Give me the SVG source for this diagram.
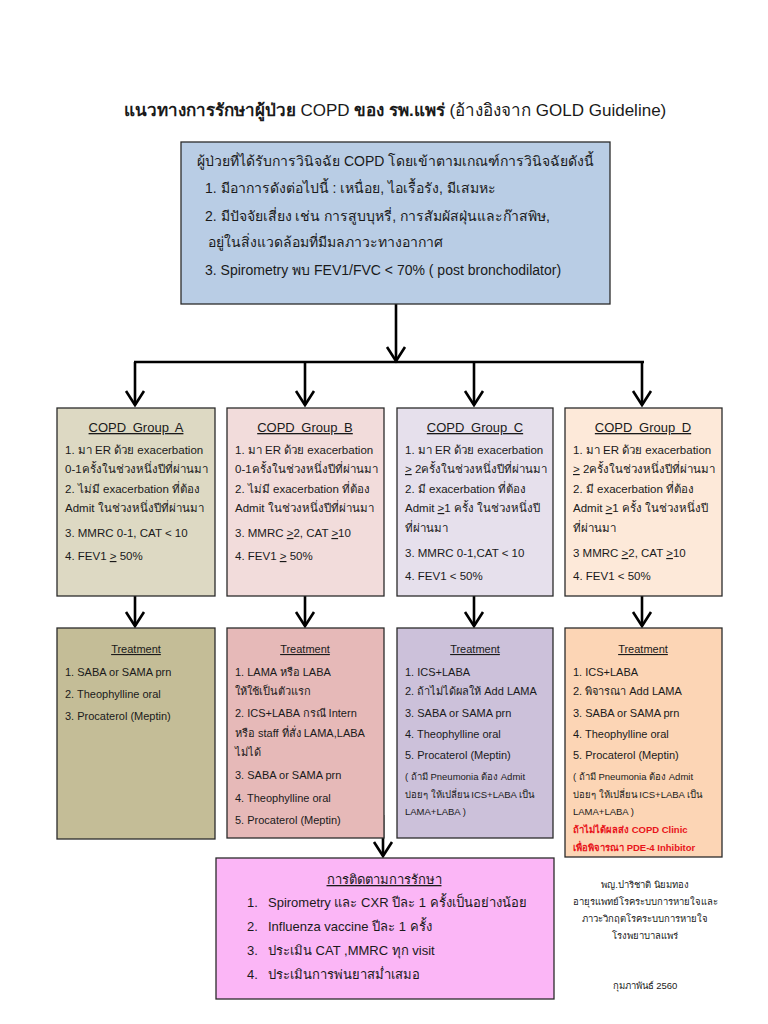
<svg xmlns="http://www.w3.org/2000/svg" width="768" height="1024" viewBox="0 0 768 1024">
<style>
text{font-family:"Liberation Sans","Noto Sans",Arial,sans-serif;fill:#1a1a1a}
.box{stroke:#2b2b2b;stroke-width:1.3}
.g{font-size:11.5px}
.gh{font-size:13px;text-decoration:underline;word-spacing:3px}
.t{font-size:11px}
.top{font-size:14px}
.fu{font-size:13px}
.sig{font-size:9.5px}
.hd{text-decoration:underline}
.red{fill:#e8141b;font-weight:bold;font-size:9.5px}
.sm{font-size:9.5px}
.conn{stroke:#000;stroke-width:2.6;fill:none}
</style>
<defs>
<marker id="arr" markerUnits="userSpaceOnUse" markerWidth="24" markerHeight="24" viewBox="0 0 24 24" refX="20" refY="12" orient="auto">
<path d="M6,3 L20,12 L6,21" fill="none" stroke="#000" stroke-width="2.6"/>
</marker>
</defs>
<rect width="768" height="1024" fill="#fff"/>
<text x="395" y="116" text-anchor="middle" font-size="17"><tspan font-weight="bold">แนวทางการรักษาผู้ป่วย</tspan> COPD <tspan font-weight="bold">ของ รพ.แพร่</tspan> (อ้างอิงจาก GOLD Guideline)</text>

<g id="connectors">
<line class="conn" x1="396" y1="304" x2="396" y2="361" marker-end="url(#arr)"/>
<line class="conn" x1="134" y1="362" x2="644" y2="362"/>
<line class="conn" x1="135" y1="362" x2="135" y2="405" marker-end="url(#arr)"/>
<line class="conn" x1="305" y1="362" x2="305" y2="405" marker-end="url(#arr)"/>
<line class="conn" x1="474" y1="362" x2="474" y2="405" marker-end="url(#arr)"/>
<line class="conn" x1="642" y1="362" x2="642" y2="405" marker-end="url(#arr)"/>
<line class="conn" x1="135" y1="596" x2="135" y2="626" marker-end="url(#arr)"/>
<line class="conn" x1="305" y1="596" x2="305" y2="626" marker-end="url(#arr)"/>
<line class="conn" x1="474" y1="596" x2="474" y2="626" marker-end="url(#arr)"/>
<line class="conn" x1="642" y1="596" x2="642" y2="626" marker-end="url(#arr)"/>
<line class="conn" x1="383" y1="815" x2="383" y2="856" marker-end="url(#arr)"/>
</g>

<g id="diagnosis">
<rect class="box" x="181" y="142" width="429" height="162" fill="#b9cde5"/>
<text class="top" x="197" y="166">ผู้ป่วยที่ได้รับการวินิจฉัย COPD โดยเข้าตามเกณฑ์การวินิจฉัยดังนี้</text>
<text class="top" x="205" y="193">1. มีอาการดังต่อไปนี้  : เหนื่อย, ไอเรื้อรัง, มีเสมหะ</text>
<text class="top" x="205" y="221">2. มีปัจจัยเสี่ยง เช่น การสูบบุหรี่, การสัมผัสฝุ่นและก๊าสพิษ,</text>
<text class="top" x="208" y="247">อยู่ในสิ่งแวดล้อมที่มีมลภาวะทางอากาศ</text>
<text class="top" x="205" y="275">3. Spirometry พบ FEV1/FVC &lt; 70% ( post bronchodilator)</text>
</g>

<g id="groupA">
<rect class="box" x="57" y="408" width="158" height="188" fill="#ddd9c3"/>
<text class="gh" x="136" y="432" text-anchor="middle">COPD Group A</text>
<text class="g" x="65" y="454">1. มา ER ด้วย exacerbation</text>
<text class="g" x="65" y="473">0-1ครั้งในช่วงหนึ่งปีที่ผ่านมา</text>
<text class="g" x="65" y="493">2. ไม่มี exacerbation ที่ต้อง</text>
<text class="g" x="65" y="512">Admit ในช่วงหนึ่งปีที่ผ่านมา</text>
<text class="g" x="65" y="537">3. MMRC 0-1, CAT &lt; 10</text>
<text class="g" x="65" y="560">4. FEV1 <tspan class="hd">&gt;</tspan> 50%</text>
</g>

<g id="groupB">
<rect class="box" x="227" y="408" width="157" height="188" fill="#f2dcdb"/>
<text class="gh" x="305" y="432" text-anchor="middle">COPD Group B</text>
<text class="g" x="235" y="454">1. มา ER ด้วย exacerbation</text>
<text class="g" x="235" y="473">0-1ครั้งในช่วงหนึ่งปีที่ผ่านมา</text>
<text class="g" x="235" y="493">2. ไม่มี exacerbation ที่ต้อง</text>
<text class="g" x="235" y="512">Admit ในช่วงหนึ่งปีที่ผ่านมา</text>
<text class="g" x="235" y="537">3. MMRC <tspan class="hd">&gt;</tspan>2, CAT <tspan class="hd">&gt;</tspan>10</text>
<text class="g" x="235" y="560">4. FEV1 <tspan class="hd">&gt;</tspan> 50%</text>
</g>

<g id="groupC">
<rect class="box" x="397" y="408" width="156" height="188" fill="#e6e0ec"/>
<text class="gh" x="475" y="432" text-anchor="middle">COPD Group C</text>
<text class="g" x="405" y="454">1. มา ER ด้วย exacerbation</text>
<text class="g" x="405" y="473"><tspan class="hd">&gt;</tspan> 2ครั้งในช่วงหนึ่งปีที่ผ่านมา</text>
<text class="g" x="405" y="493">2. มี exacerbation ที่ต้อง</text>
<text class="g" x="405" y="512">Admit <tspan class="hd">&gt;</tspan>1 ครั้ง ในช่วงหนึ่งปี</text>
<text class="g" x="405" y="532">ที่ผ่านมา</text>
<text class="g" x="405" y="557">3. MMRC 0-1,CAT &lt; 10</text>
<text class="g" x="405" y="580">4. FEV1 &lt; 50%</text>
</g>

<g id="groupD">
<rect class="box" x="565" y="408" width="157" height="188" fill="#fde9d9"/>
<text class="gh" x="643" y="432" text-anchor="middle">COPD Group D</text>
<text class="g" x="573" y="454">1. มา ER ด้วย exacerbation</text>
<text class="g" x="573" y="473"><tspan class="hd">&gt;</tspan> 2ครั้งในช่วงหนึ่งปีที่ผ่านมา</text>
<text class="g" x="573" y="493">2. มี exacerbation ที่ต้อง</text>
<text class="g" x="573" y="512">Admit <tspan class="hd">&gt;</tspan>1 ครั้ง ในช่วงหนึ่งปี</text>
<text class="g" x="573" y="532">ที่ผ่านมา</text>
<text class="g" x="573" y="557">3 MMRC <tspan class="hd">&gt;</tspan>2, CAT <tspan class="hd">&gt;</tspan>10</text>
<text class="g" x="573" y="580">4. FEV1 &lt; 50%</text>
</g>

<g id="treatA">
<rect class="box" x="57" y="628" width="158" height="211" fill="#c4bd97"/>
<text class="t hd" x="136" y="653" text-anchor="middle" font-size="12">Treatment</text>
<text class="t" x="65" y="676">1. SABA or SAMA prn</text>
<text class="t" x="65" y="698">2. Theophylline oral</text>
<text class="t" x="65" y="720">3. Procaterol (Meptin)</text>
</g>

<g id="treatB">
<rect class="box" x="227" y="628" width="157" height="210" fill="#e6b9b8"/>
<text class="t hd" x="305" y="653" text-anchor="middle" font-size="12">Treatment</text>
<text class="t" x="235" y="676">1. LAMA หรือ LABA</text>
<text class="t" x="235" y="695">ให้ใช้เป็นตัวแรก</text>
<text class="t" x="235" y="717">2. ICS+LABA กรณี Intern</text>
<text class="t" x="235" y="737">หรือ staff ที่สั่ง LAMA,LABA</text>
<text class="t" x="235" y="756">ไม่ได้</text>
<text class="t" x="235" y="779">3. SABA or SAMA prn</text>
<text class="t" x="235" y="802">4. Theophylline oral</text>
<text class="t" x="235" y="824">5. Procaterol (Meptin)</text>
</g>

<g id="treatC">
<rect class="box" x="397" y="628" width="156" height="210" fill="#ccc1da"/>
<text class="t hd" x="475" y="653" text-anchor="middle" font-size="12">Treatment</text>
<text class="t" x="405" y="676">1. ICS+LABA</text>
<text class="t" x="405" y="695">2. ถ้าไม่ได้ผลให้ Add LAMA</text>
<text class="t" x="405" y="717">3. SABA or SAMA prn</text>
<text class="t" x="405" y="738">4. Theophylline oral</text>
<text class="t" x="405" y="759">5. Procaterol (Meptin)</text>
<text class="sm" x="405" y="780">( ถ้ามี Pneumonia ต้อง Admit</text>
<text class="sm" x="405" y="798">บ่อยๆ ให้เปลี่ยน ICS+LABA เป็น</text>
<text class="sm" x="405" y="815">LAMA+LABA )</text>
</g>

<g id="treatD">
<rect class="box" x="565" y="628" width="157" height="229" fill="#fcd5b5"/>
<text class="t hd" x="643" y="653" text-anchor="middle" font-size="12">Treatment</text>
<text class="t" x="573" y="676">1. ICS+LABA</text>
<text class="t" x="573" y="695">2. พิจารณา Add LAMA</text>
<text class="t" x="573" y="717">3. SABA or SAMA prn</text>
<text class="t" x="573" y="738">4. Theophylline oral</text>
<text class="t" x="573" y="759">5. Procaterol (Meptin)</text>
<text class="sm" x="573" y="780">( ถ้ามี Pneumonia ต้อง Admit</text>
<text class="sm" x="573" y="798">บ่อยๆ ให้เปลี่ยน ICS+LABA เป็น</text>
<text class="sm" x="573" y="815">LAMA+LABA )</text>
<text class="red" x="573" y="833">ถ้าไม่ได้ผลส่ง COPD Clinic</text>
<text class="red" x="573" y="851">เพื่อพิจารณา PDE-4 Inhibitor</text>
</g>

<g id="followup">
<rect class="box" x="216" y="858" width="338" height="141" fill="#fbb6f6"/>
<text class="fu hd" x="384" y="884" text-anchor="middle">การติดตามการรักษา</text>
<text class="fu" x="247" y="907">1.</text><text class="fu" x="268" y="907">Spirometry และ CXR ปีละ 1 ครั้งเป็นอย่างน้อย</text>
<text class="fu" x="247" y="931">2.</text><text class="fu" x="268" y="931">Influenza vaccine ปีละ 1 ครั้ง</text>
<text class="fu" x="247" y="955">3.</text><text class="fu" x="268" y="955">ประเมิน CAT ,MMRC ทุก visit</text>
<text class="fu" x="247" y="979">4.</text><text class="fu" x="268" y="979">ประเมินการพ่นยาสม่ำเสมอ</text>
</g>

<g id="signature">
<text class="sig" x="645" y="888" text-anchor="middle">พญ.ปาริชาติ นิยมทอง</text>
<text class="sig" x="645" y="905" text-anchor="middle">อายุรแพทย์โรคระบบการหายใจและ</text>
<text class="sig" x="645" y="922" text-anchor="middle">ภาวะวิกฤตโรคระบบการหายใจ</text>
<text class="sig" x="645" y="939" text-anchor="middle">โรงพยาบาลแพร่</text>
<text class="sig" x="645" y="989" text-anchor="middle">กุมภาพันธ์ 2560</text>
</g>
</svg>
